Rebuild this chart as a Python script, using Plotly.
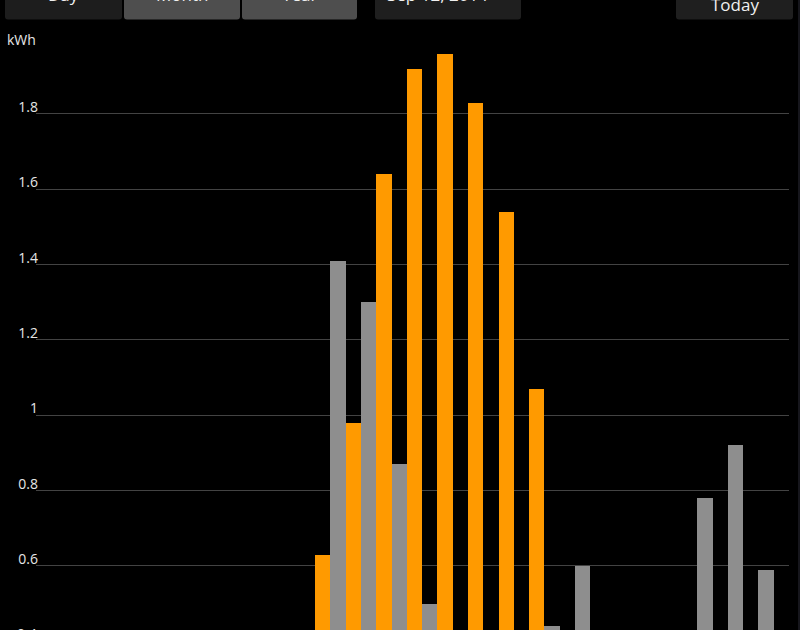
import plotly.graph_objects as go

# ---- data ----
hours = list(range(24))
orange_kwh = [None] * 9 + [0.63, 0.98, 1.64, 1.92, 1.96, 1.83, 1.54, 1.07] + [None] * 7
grey_kwh = [None] * 9 + [1.41, 1.30, 0.87, 0.50, None, None, None, 0.44, 0.60,
                         None, None, None, 0.78, 0.92, 0.59]
y_ticks = [0.4, 0.6, 0.8, 1.0, 1.2, 1.4, 1.6, 1.8]
y_tick_text = ["0.4", "0.6", "0.8", "1", "1.2", "1.4", "1.6", "1.8"]
buttons = ["Day", "Month", "Year"]
date_label = "Sep 12, 2014"
today_label = "Today"
unit_label = "kWh"

# ---- geometry ----
W, H = 800, 630
L, R, T, B = 36, 11, 30, 0
PW, PH = W - L - R, H - T - B
Y0, Y1 = 0.430, 2.023


def px(p):
    return (p - L) / PW


def py(p):
    return (H - B - p) / PH


FONT = "Open Sans, Noto Sans, DejaVu Sans, sans-serif"

fig = go.Figure()
fig.add_trace(go.Bar(x=hours, y=orange_kwh, marker=dict(color="#ff9a00", line=dict(width=0)),
                     hoverinfo="skip", showlegend=False))
fig.add_trace(go.Bar(x=hours, y=grey_kwh, marker=dict(color="#8e8e8e", line=dict(width=0)),
                     hoverinfo="skip", showlegend=False))

shapes = []


def rbox(x0, x1, y0, y1, color, r=3):
    # rounded rectangle in paper coordinates from pixel positions
    rx, ry = r / PW, r / PH
    X0, X1, Ya, Yb = px(x0), px(x1), py(y1), py(y0)  # Ya bottom, Yb top
    path = (f"M{X0 + rx},{Ya} L{X1 - rx},{Ya} Q{X1},{Ya} {X1},{Ya + ry} "
            f"L{X1},{Yb - ry} Q{X1},{Yb} {X1 - rx},{Yb} L{X0 + rx},{Yb} "
            f"Q{X0},{Yb} {X0},{Yb - ry} L{X0},{Ya + ry} Q{X0},{Ya} {X0 + rx},{Ya} Z")
    shapes.append(dict(type="path", xref="paper", yref="paper", path=path,
                       fillcolor=color, line=dict(width=0), layer="above"))


btn_x = [(5, 122), (124, 240), (242, 357)]
btn_col = ["#1d1d1d", "#4e4e4e", "#4e4e4e"]
for (a, b), c in zip(btn_x, btn_col):
    rbox(a, b, -12, 19.5, c)
rbox(375, 521, -12, 19.5, "#1f1f1f")
rbox(676, 793, -12, 19.5, "#1f1f1f")

# right edge thin line
shapes.append(dict(type="line", xref="paper", yref="paper", x0=px(799), x1=px(799),
                   y0=py(630), y1=py(0), line=dict(color="#2c2c38", width=1), layer="above"))

annotations = []
for (a, b), t in zip(btn_x, buttons):
    annotations.append(dict(text=t, xref="paper", yref="paper", x=px((a + b) / 2), y=py(-5),
                            xanchor="center", yanchor="middle", showarrow=False,
                            font=dict(family=FONT, size=17, color="#f0f0f0")))
annotations.append(dict(text=date_label, xref="paper", yref="paper", x=px(437), y=py(-5),
                        xanchor="center", yanchor="middle", showarrow=False,
                        font=dict(family=FONT, size=17, color="#f0f0f0")))
annotations.append(dict(text=today_label, xref="paper", yref="paper", x=px(735), y=py(5),
                        xanchor="center", yanchor="middle", showarrow=False,
                        font=dict(family=FONT, size=17, color="#f0f0f0")))
annotations.append(dict(text=unit_label, xref="paper", yref="paper", x=px(38), y=py(39),
                        xanchor="right", yanchor="middle", showarrow=False,
                        font=dict(family=FONT, size=14, color="#e6e6e6")))
# the 0.4 label sits just below the visible area
annotations.append(dict(text=y_tick_text[0], xref="paper", yref="paper", x=px(39),
                        y=(y_ticks[0] - Y0) / (Y1 - Y0) + 8 / PH,
                        xanchor="right", yanchor="middle", showarrow=False,
                        font=dict(family=FONT, size=14, color="#e6e6e6")))

fig.update_layout(
    width=W, height=H,
    margin=dict(l=L, r=R, t=T, b=B, pad=0),
    paper_bgcolor="#000000", plot_bgcolor="#000000",
    barmode="group", bargap=0, bargroupgap=0,
    shapes=shapes, annotations=annotations,
    xaxis=dict(range=[-0.627, 24.0], showgrid=False, zeroline=False, showticklabels=False,
               ticks="", showline=False, fixedrange=True),
    yaxis=dict(range=[Y0, Y1], tickvals=y_ticks, ticktext=y_tick_text, showgrid=True,
               gridcolor="#434343", gridwidth=1, zeroline=False, ticks="", showline=False,
               ticklabelshift=-7, ticklabelstandoff=-3,
               tickfont=dict(family=FONT, size=14, color="#e6e6e6"), fixedrange=True),
    font=dict(family=FONT, color="#e6e6e6"),
)

fig.write_html("out.html", config={"displayModeBar": False},
               post_script="document.body.style.margin='0';document.body.style.background='#000';")
